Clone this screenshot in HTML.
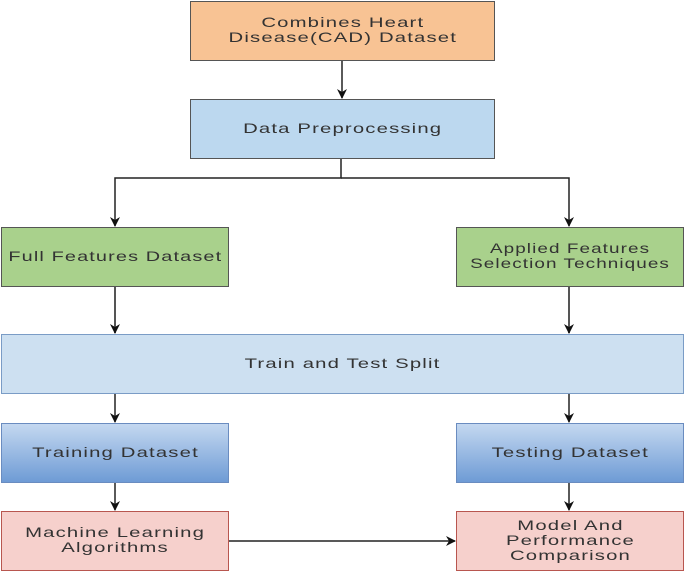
<!DOCTYPE html>
<html><head><style>
body{margin:0;width:685px;height:572px;background:#fff;position:relative;overflow:hidden;font-family:"Liberation Sans",sans-serif;}
.b{position:absolute;box-sizing:border-box;display:flex;align-items:center;justify-content:center;text-align:center;font-size:14px;color:#333;line-height:15px;letter-spacing:0.8px}
.b span{display:inline-block;transform:scaleX(1.45);white-space:nowrap;margin-top:-2px}
svg{position:absolute;left:0;top:0}
</style></head><body>
<div class="b" style="left:190px;top:1px;width:305px;height:60px;background:#f8c394;border:1.5px solid #555"><span>Combines Heart<br>Disease(CAD) Dataset</span></div>
<div class="b" style="left:190px;top:99px;width:305px;height:60px;background:#bcd8ef;border:1.5px solid #555"><span>Data Preprocessing</span></div>
<div class="b" style="left:1px;top:227px;width:228px;height:60px;background:#a9d18c;border:1.5px solid #555"><span style="transform:scaleX(1.42)">Full Features Dataset</span></div>
<div class="b" style="left:456px;top:227px;width:228px;height:60px;background:#a9d18c;border:1.5px solid #555"><span style="transform:scaleX(1.35)">Applied Features<br>Selection Techniques</span></div>
<div class="b" style="left:1px;top:334px;width:683px;height:60px;background:#cde0f1;border:1.5px solid #7a9cc6"><span>Train and Test Split</span></div>
<div class="b" style="left:1px;top:423px;width:228px;height:60px;background:linear-gradient(#c4d8f0,#6e9bd5);border:1.5px solid #6a8cc0"><span>Training Dataset</span></div>
<div class="b" style="left:456px;top:423px;width:228px;height:60px;background:linear-gradient(#c4d8f0,#6e9bd5);border:1.5px solid #6a8cc0"><span>Testing Dataset</span></div>
<div class="b" style="left:1px;top:511px;width:228px;height:60px;background:#f6d0cc;border:1.5px solid #b8564f"><span>Machine Learning<br>Algorithms</span></div>
<div class="b" style="left:456px;top:511px;width:228px;height:60px;background:#f6d0cc;border:1.5px solid #b8564f"><span>Model And<br>Performance<br>Comparison</span></div>
<svg width="685" height="572">
<defs><marker id="a" markerWidth="10" markerHeight="10" refX="9" refY="5" orient="auto" markerUnits="userSpaceOnUse"><path d="M0,0 L10,5 L0,10 L3,5z" fill="#111"/></marker></defs>
<g stroke="#222" stroke-width="1.5" fill="none">
<line x1="342" y1="61" x2="342" y2="98" marker-end="url(#a)"/>
<polyline points="341,159 341,178 115,178 115,226" marker-end="url(#a)"/>
<polyline points="341,178 569,178 569,226" marker-end="url(#a)"/>
<line x1="115" y1="287" x2="115" y2="333" marker-end="url(#a)" stroke="#555" stroke-width="2"/>
<line x1="569" y1="287" x2="569" y2="333" marker-end="url(#a)" stroke="#555" stroke-width="2"/>
<line x1="115" y1="394" x2="115" y2="422" marker-end="url(#a)"/>
<line x1="569" y1="394" x2="569" y2="422" marker-end="url(#a)"/>
<line x1="115" y1="483" x2="115" y2="510" marker-end="url(#a)"/>
<line x1="569" y1="483" x2="569" y2="510" marker-end="url(#a)"/>
<line x1="229" y1="541" x2="455" y2="541" marker-end="url(#a)"/>
</g></svg>
</body></html>
